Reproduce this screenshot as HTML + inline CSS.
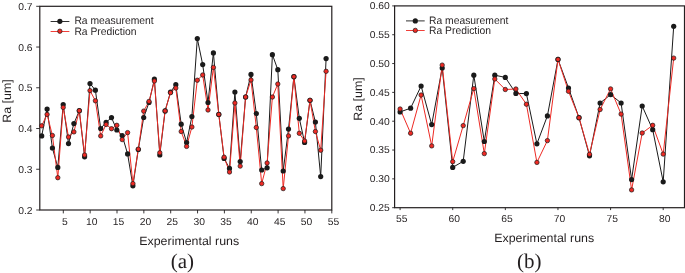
<!DOCTYPE html>
<html><head><meta charset="utf-8"><title>Ra measurement vs prediction</title>
<style>
html,body{margin:0;padding:0;background:#fff;}
svg{display:block;}
text{text-rendering:geometricPrecision;font-family:"Liberation Sans",Arial,sans-serif;fill:#231f20;}
.t{font-size:10px;}
.g{font-size:10.8px;}
.l{font-size:12px;}
.c{font-family:"Liberation Serif","Times New Roman",serif;font-size:21px;}
</style></head><body>
<svg width="685" height="273" viewBox="0 0 685 273">
<rect width="685" height="273" fill="#fff"/>
<rect x="39.8" y="6.3" width="292.0" height="203.7" fill="none" stroke="#231f20" stroke-width="1.2"/>
<line x1="36.199999999999996" y1="6.30" x2="39.8" y2="6.30" stroke="#231f20" stroke-width="0.9"/>
<text class="t" transform="translate(32.60,9.90) scale(1.033,1)" text-anchor="end">0.7</text>
<line x1="36.199999999999996" y1="47.04" x2="39.8" y2="47.04" stroke="#231f20" stroke-width="0.9"/>
<text class="t" transform="translate(32.60,50.64) scale(1.033,1)" text-anchor="end">0.6</text>
<line x1="36.199999999999996" y1="87.78" x2="39.8" y2="87.78" stroke="#231f20" stroke-width="0.9"/>
<text class="t" transform="translate(32.60,91.38) scale(1.033,1)" text-anchor="end">0.5</text>
<line x1="36.199999999999996" y1="128.52" x2="39.8" y2="128.52" stroke="#231f20" stroke-width="0.9"/>
<text class="t" transform="translate(32.60,132.12) scale(1.033,1)" text-anchor="end">0.4</text>
<line x1="36.199999999999996" y1="169.26" x2="39.8" y2="169.26" stroke="#231f20" stroke-width="0.9"/>
<text class="t" transform="translate(32.60,172.86) scale(1.033,1)" text-anchor="end">0.3</text>
<line x1="36.199999999999996" y1="210.00" x2="39.8" y2="210.00" stroke="#231f20" stroke-width="0.9"/>
<text class="t" transform="translate(32.60,213.60) scale(1.033,1)" text-anchor="end">0.2</text>
<line x1="63.30" y1="210.0" x2="63.30" y2="213.4" stroke="#231f20" stroke-width="0.9"/>
<text class="t" transform="translate(64.90,225.00) scale(1.033,1)" text-anchor="middle">5</text>
<line x1="90.15" y1="210.0" x2="90.15" y2="213.4" stroke="#231f20" stroke-width="0.9"/>
<text class="t" transform="translate(91.75,225.00) scale(1.033,1)" text-anchor="middle">10</text>
<line x1="117.00" y1="210.0" x2="117.00" y2="213.4" stroke="#231f20" stroke-width="0.9"/>
<text class="t" transform="translate(118.60,225.00) scale(1.033,1)" text-anchor="middle">15</text>
<line x1="143.85" y1="210.0" x2="143.85" y2="213.4" stroke="#231f20" stroke-width="0.9"/>
<text class="t" transform="translate(145.45,225.00) scale(1.033,1)" text-anchor="middle">20</text>
<line x1="170.70" y1="210.0" x2="170.70" y2="213.4" stroke="#231f20" stroke-width="0.9"/>
<text class="t" transform="translate(172.30,225.00) scale(1.033,1)" text-anchor="middle">25</text>
<line x1="197.55" y1="210.0" x2="197.55" y2="213.4" stroke="#231f20" stroke-width="0.9"/>
<text class="t" transform="translate(199.15,225.00) scale(1.033,1)" text-anchor="middle">30</text>
<line x1="224.40" y1="210.0" x2="224.40" y2="213.4" stroke="#231f20" stroke-width="0.9"/>
<text class="t" transform="translate(226.00,225.00) scale(1.033,1)" text-anchor="middle">35</text>
<line x1="251.25" y1="210.0" x2="251.25" y2="213.4" stroke="#231f20" stroke-width="0.9"/>
<text class="t" transform="translate(252.85,225.00) scale(1.033,1)" text-anchor="middle">40</text>
<line x1="278.10" y1="210.0" x2="278.10" y2="213.4" stroke="#231f20" stroke-width="0.9"/>
<text class="t" transform="translate(279.70,225.00) scale(1.033,1)" text-anchor="middle">45</text>
<line x1="304.95" y1="210.0" x2="304.95" y2="213.4" stroke="#231f20" stroke-width="0.9"/>
<text class="t" transform="translate(306.55,225.00) scale(1.033,1)" text-anchor="middle">50</text>
<line x1="331.80" y1="210.0" x2="331.80" y2="213.4" stroke="#231f20" stroke-width="0.9"/>
<text class="t" transform="translate(333.40,225.00) scale(1.033,1)" text-anchor="middle">55</text>
<polyline points="41.7,135.9 47.1,109.1 52.4,148.0 57.8,167.4 63.2,104.5 68.5,143.6 73.9,123.6 79.3,110.7 84.6,156.8 90.0,83.5 95.4,90.2 100.7,128.5 106.1,122.3 111.5,117.6 116.8,130.0 122.2,135.5 127.6,153.9 132.9,185.8 138.3,149.5 143.7,117.5 149.0,102.5 154.4,79.2 159.8,155.0 165.1,110.9 170.5,92.0 175.8,84.7 181.2,124.2 186.6,142.5 191.9,116.5 197.3,38.6 202.7,64.6 208.0,102.5 213.4,52.9 218.8,114.4 224.1,158.4 229.5,168.4 234.9,92.0 240.2,161.6 245.6,97.0 251.0,74.4 256.3,113.5 261.7,170.0 267.1,167.8 272.4,54.7 277.8,69.7 283.2,171.0 288.5,129.1 293.9,76.7 299.3,118.3 304.6,142.5 310.0,100.3 315.4,122.0 320.7,176.6 326.1,58.6" fill="none" stroke="#1a1a1a" stroke-width="1"/>
<polyline points="41.7,125.8 47.1,114.4 52.4,135.5 57.8,177.7 63.2,107.4 68.5,137.0 73.9,131.9 79.3,110.7 84.6,155.0 90.0,90.6 95.4,100.8 100.7,135.9 106.1,124.5 111.5,128.7 116.8,125.3 122.2,139.6 127.6,132.6 132.9,183.6 138.3,149.1 143.7,111.1 149.0,101.4 154.4,81.0 159.8,152.8 165.1,110.9 170.5,92.7 175.8,88.0 181.2,131.5 186.6,146.4 191.9,127.0 197.3,80.2 202.7,75.0 208.0,110.0 213.4,67.4 218.8,114.4 224.1,157.2 229.5,172.0 234.9,103.0 240.2,166.1 245.6,97.0 251.0,80.0 256.3,127.5 261.7,183.6 267.1,163.0 272.4,97.0 277.8,84.0 283.2,188.6 288.5,135.9 293.9,76.7 299.3,133.3 304.6,141.0 310.0,100.3 315.4,131.5 320.7,150.2 326.1,71.3" fill="none" stroke="#ee2a24" stroke-width="1"/>
<circle cx="41.7" cy="135.9" r="2.6" fill="#1a1a1a"/><circle cx="47.1" cy="109.1" r="2.6" fill="#1a1a1a"/><circle cx="52.4" cy="148.0" r="2.6" fill="#1a1a1a"/><circle cx="57.8" cy="167.4" r="2.6" fill="#1a1a1a"/><circle cx="63.2" cy="104.5" r="2.6" fill="#1a1a1a"/><circle cx="68.5" cy="143.6" r="2.6" fill="#1a1a1a"/><circle cx="73.9" cy="123.6" r="2.6" fill="#1a1a1a"/><circle cx="79.3" cy="110.7" r="2.6" fill="#1a1a1a"/><circle cx="84.6" cy="156.8" r="2.6" fill="#1a1a1a"/><circle cx="90.0" cy="83.5" r="2.6" fill="#1a1a1a"/><circle cx="95.4" cy="90.2" r="2.6" fill="#1a1a1a"/><circle cx="100.7" cy="128.5" r="2.6" fill="#1a1a1a"/><circle cx="106.1" cy="122.3" r="2.6" fill="#1a1a1a"/><circle cx="111.5" cy="117.6" r="2.6" fill="#1a1a1a"/><circle cx="116.8" cy="130.0" r="2.6" fill="#1a1a1a"/><circle cx="122.2" cy="135.5" r="2.6" fill="#1a1a1a"/><circle cx="127.6" cy="153.9" r="2.6" fill="#1a1a1a"/><circle cx="132.9" cy="185.8" r="2.6" fill="#1a1a1a"/><circle cx="138.3" cy="149.5" r="2.6" fill="#1a1a1a"/><circle cx="143.7" cy="117.5" r="2.6" fill="#1a1a1a"/><circle cx="149.0" cy="102.5" r="2.6" fill="#1a1a1a"/><circle cx="154.4" cy="79.2" r="2.6" fill="#1a1a1a"/><circle cx="159.8" cy="155.0" r="2.6" fill="#1a1a1a"/><circle cx="165.1" cy="110.9" r="2.6" fill="#1a1a1a"/><circle cx="170.5" cy="92.0" r="2.6" fill="#1a1a1a"/><circle cx="175.8" cy="84.7" r="2.6" fill="#1a1a1a"/><circle cx="181.2" cy="124.2" r="2.6" fill="#1a1a1a"/><circle cx="186.6" cy="142.5" r="2.6" fill="#1a1a1a"/><circle cx="191.9" cy="116.5" r="2.6" fill="#1a1a1a"/><circle cx="197.3" cy="38.6" r="2.6" fill="#1a1a1a"/><circle cx="202.7" cy="64.6" r="2.6" fill="#1a1a1a"/><circle cx="208.0" cy="102.5" r="2.6" fill="#1a1a1a"/><circle cx="213.4" cy="52.9" r="2.6" fill="#1a1a1a"/><circle cx="218.8" cy="114.4" r="2.6" fill="#1a1a1a"/><circle cx="224.1" cy="158.4" r="2.6" fill="#1a1a1a"/><circle cx="229.5" cy="168.4" r="2.6" fill="#1a1a1a"/><circle cx="234.9" cy="92.0" r="2.6" fill="#1a1a1a"/><circle cx="240.2" cy="161.6" r="2.6" fill="#1a1a1a"/><circle cx="245.6" cy="97.0" r="2.6" fill="#1a1a1a"/><circle cx="251.0" cy="74.4" r="2.6" fill="#1a1a1a"/><circle cx="256.3" cy="113.5" r="2.6" fill="#1a1a1a"/><circle cx="261.7" cy="170.0" r="2.6" fill="#1a1a1a"/><circle cx="267.1" cy="167.8" r="2.6" fill="#1a1a1a"/><circle cx="272.4" cy="54.7" r="2.6" fill="#1a1a1a"/><circle cx="277.8" cy="69.7" r="2.6" fill="#1a1a1a"/><circle cx="283.2" cy="171.0" r="2.6" fill="#1a1a1a"/><circle cx="288.5" cy="129.1" r="2.6" fill="#1a1a1a"/><circle cx="293.9" cy="76.7" r="2.6" fill="#1a1a1a"/><circle cx="299.3" cy="118.3" r="2.6" fill="#1a1a1a"/><circle cx="304.6" cy="142.5" r="2.6" fill="#1a1a1a"/><circle cx="310.0" cy="100.3" r="2.6" fill="#1a1a1a"/><circle cx="315.4" cy="122.0" r="2.6" fill="#1a1a1a"/><circle cx="320.7" cy="176.6" r="2.6" fill="#1a1a1a"/><circle cx="326.1" cy="58.6" r="2.6" fill="#1a1a1a"/>
<circle cx="41.7" cy="125.8" r="2.2" fill="#ee2a24" stroke="#1a1a1a" stroke-width="0.7"/><circle cx="47.1" cy="114.4" r="2.2" fill="#ee2a24" stroke="#1a1a1a" stroke-width="0.7"/><circle cx="52.4" cy="135.5" r="2.2" fill="#ee2a24" stroke="#1a1a1a" stroke-width="0.7"/><circle cx="57.8" cy="177.7" r="2.2" fill="#ee2a24" stroke="#1a1a1a" stroke-width="0.7"/><circle cx="63.2" cy="107.4" r="2.2" fill="#ee2a24" stroke="#1a1a1a" stroke-width="0.7"/><circle cx="68.5" cy="137.0" r="2.2" fill="#ee2a24" stroke="#1a1a1a" stroke-width="0.7"/><circle cx="73.9" cy="131.9" r="2.2" fill="#ee2a24" stroke="#1a1a1a" stroke-width="0.7"/><circle cx="79.3" cy="110.7" r="2.2" fill="#ee2a24" stroke="#1a1a1a" stroke-width="0.7"/><circle cx="84.6" cy="155.0" r="2.2" fill="#ee2a24" stroke="#1a1a1a" stroke-width="0.7"/><circle cx="90.0" cy="90.6" r="2.2" fill="#ee2a24" stroke="#1a1a1a" stroke-width="0.7"/><circle cx="95.4" cy="100.8" r="2.2" fill="#ee2a24" stroke="#1a1a1a" stroke-width="0.7"/><circle cx="100.7" cy="135.9" r="2.2" fill="#ee2a24" stroke="#1a1a1a" stroke-width="0.7"/><circle cx="106.1" cy="124.5" r="2.2" fill="#ee2a24" stroke="#1a1a1a" stroke-width="0.7"/><circle cx="111.5" cy="128.7" r="2.2" fill="#ee2a24" stroke="#1a1a1a" stroke-width="0.7"/><circle cx="116.8" cy="125.3" r="2.2" fill="#ee2a24" stroke="#1a1a1a" stroke-width="0.7"/><circle cx="122.2" cy="139.6" r="2.2" fill="#ee2a24" stroke="#1a1a1a" stroke-width="0.7"/><circle cx="127.6" cy="132.6" r="2.2" fill="#ee2a24" stroke="#1a1a1a" stroke-width="0.7"/><circle cx="132.9" cy="183.6" r="2.2" fill="#ee2a24" stroke="#1a1a1a" stroke-width="0.7"/><circle cx="138.3" cy="149.1" r="2.2" fill="#ee2a24" stroke="#1a1a1a" stroke-width="0.7"/><circle cx="143.7" cy="111.1" r="2.2" fill="#ee2a24" stroke="#1a1a1a" stroke-width="0.7"/><circle cx="149.0" cy="101.4" r="2.2" fill="#ee2a24" stroke="#1a1a1a" stroke-width="0.7"/><circle cx="154.4" cy="81.0" r="2.2" fill="#ee2a24" stroke="#1a1a1a" stroke-width="0.7"/><circle cx="159.8" cy="152.8" r="2.2" fill="#ee2a24" stroke="#1a1a1a" stroke-width="0.7"/><circle cx="165.1" cy="110.9" r="2.2" fill="#ee2a24" stroke="#1a1a1a" stroke-width="0.7"/><circle cx="170.5" cy="92.7" r="2.2" fill="#ee2a24" stroke="#1a1a1a" stroke-width="0.7"/><circle cx="175.8" cy="88.0" r="2.2" fill="#ee2a24" stroke="#1a1a1a" stroke-width="0.7"/><circle cx="181.2" cy="131.5" r="2.2" fill="#ee2a24" stroke="#1a1a1a" stroke-width="0.7"/><circle cx="186.6" cy="146.4" r="2.2" fill="#ee2a24" stroke="#1a1a1a" stroke-width="0.7"/><circle cx="191.9" cy="127.0" r="2.2" fill="#ee2a24" stroke="#1a1a1a" stroke-width="0.7"/><circle cx="197.3" cy="80.2" r="2.2" fill="#ee2a24" stroke="#1a1a1a" stroke-width="0.7"/><circle cx="202.7" cy="75.0" r="2.2" fill="#ee2a24" stroke="#1a1a1a" stroke-width="0.7"/><circle cx="208.0" cy="110.0" r="2.2" fill="#ee2a24" stroke="#1a1a1a" stroke-width="0.7"/><circle cx="213.4" cy="67.4" r="2.2" fill="#ee2a24" stroke="#1a1a1a" stroke-width="0.7"/><circle cx="218.8" cy="114.4" r="2.2" fill="#ee2a24" stroke="#1a1a1a" stroke-width="0.7"/><circle cx="224.1" cy="157.2" r="2.2" fill="#ee2a24" stroke="#1a1a1a" stroke-width="0.7"/><circle cx="229.5" cy="172.0" r="2.2" fill="#ee2a24" stroke="#1a1a1a" stroke-width="0.7"/><circle cx="234.9" cy="103.0" r="2.2" fill="#ee2a24" stroke="#1a1a1a" stroke-width="0.7"/><circle cx="240.2" cy="166.1" r="2.2" fill="#ee2a24" stroke="#1a1a1a" stroke-width="0.7"/><circle cx="245.6" cy="97.0" r="2.2" fill="#ee2a24" stroke="#1a1a1a" stroke-width="0.7"/><circle cx="251.0" cy="80.0" r="2.2" fill="#ee2a24" stroke="#1a1a1a" stroke-width="0.7"/><circle cx="256.3" cy="127.5" r="2.2" fill="#ee2a24" stroke="#1a1a1a" stroke-width="0.7"/><circle cx="261.7" cy="183.6" r="2.2" fill="#ee2a24" stroke="#1a1a1a" stroke-width="0.7"/><circle cx="267.1" cy="163.0" r="2.2" fill="#ee2a24" stroke="#1a1a1a" stroke-width="0.7"/><circle cx="272.4" cy="97.0" r="2.2" fill="#ee2a24" stroke="#1a1a1a" stroke-width="0.7"/><circle cx="277.8" cy="84.0" r="2.2" fill="#ee2a24" stroke="#1a1a1a" stroke-width="0.7"/><circle cx="283.2" cy="188.6" r="2.2" fill="#ee2a24" stroke="#1a1a1a" stroke-width="0.7"/><circle cx="288.5" cy="135.9" r="2.2" fill="#ee2a24" stroke="#1a1a1a" stroke-width="0.7"/><circle cx="293.9" cy="76.7" r="2.2" fill="#ee2a24" stroke="#1a1a1a" stroke-width="0.7"/><circle cx="299.3" cy="133.3" r="2.2" fill="#ee2a24" stroke="#1a1a1a" stroke-width="0.7"/><circle cx="304.6" cy="141.0" r="2.2" fill="#ee2a24" stroke="#1a1a1a" stroke-width="0.7"/><circle cx="310.0" cy="100.3" r="2.2" fill="#ee2a24" stroke="#1a1a1a" stroke-width="0.7"/><circle cx="315.4" cy="131.5" r="2.2" fill="#ee2a24" stroke="#1a1a1a" stroke-width="0.7"/><circle cx="320.7" cy="150.2" r="2.2" fill="#ee2a24" stroke="#1a1a1a" stroke-width="0.7"/><circle cx="326.1" cy="71.3" r="2.2" fill="#ee2a24" stroke="#1a1a1a" stroke-width="0.7"/>
<line x1="50.6" y1="21.5" x2="69.4" y2="21.5" stroke="#1a1a1a" stroke-width="0.9"/><circle cx="59.85" cy="21.3" r="2.6" fill="#1a1a1a"/>
<line x1="50.6" y1="31.5" x2="69.4" y2="31.5" stroke="#ee2a24" stroke-width="0.9"/><circle cx="59.85" cy="31.2" r="2.2" fill="#ee2a24" stroke="#1a1a1a" stroke-width="0.7"/>
<text class="g" transform="translate(74.40,24.35) scale(0.957,1)">Ra measurement</text>
<text class="g" transform="translate(74.40,34.65) scale(0.957,1)">Ra Prediction</text>
<text class="l" transform="translate(10.70,122.70) rotate(-90) scale(1.033,1)">Ra [um]</text>
<text class="l" transform="translate(189.20,245.20) scale(1.033,1)" text-anchor="middle">Experimental runs</text>
<text class="c" x="182.4" y="268" text-anchor="middle">(a)</text>
<rect x="394.6" y="5.9" width="289.9" height="201.79999999999998" fill="none" stroke="#231f20" stroke-width="1.2"/>
<line x1="392.20000000000005" y1="5.90" x2="394.6" y2="5.90" stroke="#231f20" stroke-width="0.9"/>
<text class="t" transform="translate(389.80,9.20) scale(1.033,1)" text-anchor="end">0.60</text>
<line x1="392.20000000000005" y1="34.73" x2="394.6" y2="34.73" stroke="#231f20" stroke-width="0.9"/>
<text class="t" transform="translate(389.80,38.03) scale(1.033,1)" text-anchor="end">0.55</text>
<line x1="392.20000000000005" y1="63.56" x2="394.6" y2="63.56" stroke="#231f20" stroke-width="0.9"/>
<text class="t" transform="translate(389.80,66.86) scale(1.033,1)" text-anchor="end">0.50</text>
<line x1="392.20000000000005" y1="92.39" x2="394.6" y2="92.39" stroke="#231f20" stroke-width="0.9"/>
<text class="t" transform="translate(389.80,95.69) scale(1.033,1)" text-anchor="end">0.45</text>
<line x1="392.20000000000005" y1="121.21" x2="394.6" y2="121.21" stroke="#231f20" stroke-width="0.9"/>
<text class="t" transform="translate(389.80,124.51) scale(1.033,1)" text-anchor="end">0.40</text>
<line x1="392.20000000000005" y1="150.04" x2="394.6" y2="150.04" stroke="#231f20" stroke-width="0.9"/>
<text class="t" transform="translate(389.80,153.34) scale(1.033,1)" text-anchor="end">0.35</text>
<line x1="392.20000000000005" y1="178.87" x2="394.6" y2="178.87" stroke="#231f20" stroke-width="0.9"/>
<text class="t" transform="translate(389.80,182.17) scale(1.033,1)" text-anchor="end">0.30</text>
<line x1="392.20000000000005" y1="207.70" x2="394.6" y2="207.70" stroke="#231f20" stroke-width="0.9"/>
<text class="t" transform="translate(389.80,211.00) scale(1.033,1)" text-anchor="end">0.25</text>
<line x1="400.10" y1="207.7" x2="400.10" y2="210.1" stroke="#231f20" stroke-width="0.9"/>
<text class="t" transform="translate(401.70,222.40) scale(1.033,1)" text-anchor="middle">55</text>
<line x1="452.72" y1="207.7" x2="452.72" y2="210.1" stroke="#231f20" stroke-width="0.9"/>
<text class="t" transform="translate(454.32,222.40) scale(1.033,1)" text-anchor="middle">60</text>
<line x1="505.34" y1="207.7" x2="505.34" y2="210.1" stroke="#231f20" stroke-width="0.9"/>
<text class="t" transform="translate(506.94,222.40) scale(1.033,1)" text-anchor="middle">65</text>
<line x1="557.96" y1="207.7" x2="557.96" y2="210.1" stroke="#231f20" stroke-width="0.9"/>
<text class="t" transform="translate(559.56,222.40) scale(1.033,1)" text-anchor="middle">70</text>
<line x1="610.58" y1="207.7" x2="610.58" y2="210.1" stroke="#231f20" stroke-width="0.9"/>
<text class="t" transform="translate(612.18,222.40) scale(1.033,1)" text-anchor="middle">75</text>
<line x1="663.20" y1="207.7" x2="663.20" y2="210.1" stroke="#231f20" stroke-width="0.9"/>
<text class="t" transform="translate(664.80,222.40) scale(1.033,1)" text-anchor="middle">80</text>
<polyline points="400.1,111.9 410.6,108.2 421.1,86.0 431.7,124.6 442.2,68.0 452.7,167.4 463.2,161.3 473.8,75.2 484.3,141.5 494.8,75.2 505.3,77.4 515.9,93.4 526.4,93.6 536.9,143.8 547.4,115.9 558.0,59.4 568.5,88.0 579.0,117.7 589.5,155.8 600.1,103.0 610.6,94.6 621.1,103.0 631.6,179.6 642.2,106.0 652.7,129.7 663.2,181.8 673.7,26.3" fill="none" stroke="#1a1a1a" stroke-width="1"/>
<polyline points="400.1,109.0 410.6,133.2 421.1,95.0 431.7,145.9 442.2,65.1 452.7,161.7 463.2,125.6 473.8,88.6 484.3,153.6 494.8,79.0 505.3,89.5 515.9,89.0 526.4,104.2 536.9,162.4 547.4,140.6 558.0,59.4 568.5,91.3 579.0,117.7 589.5,154.3 600.1,109.5 610.6,88.9 621.1,114.1 631.6,189.9 642.2,133.0 652.7,125.3 663.2,154.1 673.7,58.1" fill="none" stroke="#ee2a24" stroke-width="1"/>
<circle cx="400.1" cy="111.9" r="2.6" fill="#1a1a1a"/><circle cx="410.6" cy="108.2" r="2.6" fill="#1a1a1a"/><circle cx="421.1" cy="86.0" r="2.6" fill="#1a1a1a"/><circle cx="431.7" cy="124.6" r="2.6" fill="#1a1a1a"/><circle cx="442.2" cy="68.0" r="2.6" fill="#1a1a1a"/><circle cx="452.7" cy="167.4" r="2.6" fill="#1a1a1a"/><circle cx="463.2" cy="161.3" r="2.6" fill="#1a1a1a"/><circle cx="473.8" cy="75.2" r="2.6" fill="#1a1a1a"/><circle cx="484.3" cy="141.5" r="2.6" fill="#1a1a1a"/><circle cx="494.8" cy="75.2" r="2.6" fill="#1a1a1a"/><circle cx="505.3" cy="77.4" r="2.6" fill="#1a1a1a"/><circle cx="515.9" cy="93.4" r="2.6" fill="#1a1a1a"/><circle cx="526.4" cy="93.6" r="2.6" fill="#1a1a1a"/><circle cx="536.9" cy="143.8" r="2.6" fill="#1a1a1a"/><circle cx="547.4" cy="115.9" r="2.6" fill="#1a1a1a"/><circle cx="558.0" cy="59.4" r="2.6" fill="#1a1a1a"/><circle cx="568.5" cy="88.0" r="2.6" fill="#1a1a1a"/><circle cx="579.0" cy="117.7" r="2.6" fill="#1a1a1a"/><circle cx="589.5" cy="155.8" r="2.6" fill="#1a1a1a"/><circle cx="600.1" cy="103.0" r="2.6" fill="#1a1a1a"/><circle cx="610.6" cy="94.6" r="2.6" fill="#1a1a1a"/><circle cx="621.1" cy="103.0" r="2.6" fill="#1a1a1a"/><circle cx="631.6" cy="179.6" r="2.6" fill="#1a1a1a"/><circle cx="642.2" cy="106.0" r="2.6" fill="#1a1a1a"/><circle cx="652.7" cy="129.7" r="2.6" fill="#1a1a1a"/><circle cx="663.2" cy="181.8" r="2.6" fill="#1a1a1a"/><circle cx="673.7" cy="26.3" r="2.6" fill="#1a1a1a"/>
<circle cx="400.1" cy="109.0" r="2.2" fill="#ee2a24" stroke="#1a1a1a" stroke-width="0.7"/><circle cx="410.6" cy="133.2" r="2.2" fill="#ee2a24" stroke="#1a1a1a" stroke-width="0.7"/><circle cx="421.1" cy="95.0" r="2.2" fill="#ee2a24" stroke="#1a1a1a" stroke-width="0.7"/><circle cx="431.7" cy="145.9" r="2.2" fill="#ee2a24" stroke="#1a1a1a" stroke-width="0.7"/><circle cx="442.2" cy="65.1" r="2.2" fill="#ee2a24" stroke="#1a1a1a" stroke-width="0.7"/><circle cx="452.7" cy="161.7" r="2.2" fill="#ee2a24" stroke="#1a1a1a" stroke-width="0.7"/><circle cx="463.2" cy="125.6" r="2.2" fill="#ee2a24" stroke="#1a1a1a" stroke-width="0.7"/><circle cx="473.8" cy="88.6" r="2.2" fill="#ee2a24" stroke="#1a1a1a" stroke-width="0.7"/><circle cx="484.3" cy="153.6" r="2.2" fill="#ee2a24" stroke="#1a1a1a" stroke-width="0.7"/><circle cx="494.8" cy="79.0" r="2.2" fill="#ee2a24" stroke="#1a1a1a" stroke-width="0.7"/><circle cx="505.3" cy="89.5" r="2.2" fill="#ee2a24" stroke="#1a1a1a" stroke-width="0.7"/><circle cx="515.9" cy="89.0" r="2.2" fill="#ee2a24" stroke="#1a1a1a" stroke-width="0.7"/><circle cx="526.4" cy="104.2" r="2.2" fill="#ee2a24" stroke="#1a1a1a" stroke-width="0.7"/><circle cx="536.9" cy="162.4" r="2.2" fill="#ee2a24" stroke="#1a1a1a" stroke-width="0.7"/><circle cx="547.4" cy="140.6" r="2.2" fill="#ee2a24" stroke="#1a1a1a" stroke-width="0.7"/><circle cx="558.0" cy="59.4" r="2.2" fill="#ee2a24" stroke="#1a1a1a" stroke-width="0.7"/><circle cx="568.5" cy="91.3" r="2.2" fill="#ee2a24" stroke="#1a1a1a" stroke-width="0.7"/><circle cx="579.0" cy="117.7" r="2.2" fill="#ee2a24" stroke="#1a1a1a" stroke-width="0.7"/><circle cx="589.5" cy="154.3" r="2.2" fill="#ee2a24" stroke="#1a1a1a" stroke-width="0.7"/><circle cx="600.1" cy="109.5" r="2.2" fill="#ee2a24" stroke="#1a1a1a" stroke-width="0.7"/><circle cx="610.6" cy="88.9" r="2.2" fill="#ee2a24" stroke="#1a1a1a" stroke-width="0.7"/><circle cx="621.1" cy="114.1" r="2.2" fill="#ee2a24" stroke="#1a1a1a" stroke-width="0.7"/><circle cx="631.6" cy="189.9" r="2.2" fill="#ee2a24" stroke="#1a1a1a" stroke-width="0.7"/><circle cx="642.2" cy="133.0" r="2.2" fill="#ee2a24" stroke="#1a1a1a" stroke-width="0.7"/><circle cx="652.7" cy="125.3" r="2.2" fill="#ee2a24" stroke="#1a1a1a" stroke-width="0.7"/><circle cx="663.2" cy="154.1" r="2.2" fill="#ee2a24" stroke="#1a1a1a" stroke-width="0.7"/><circle cx="673.7" cy="58.1" r="2.2" fill="#ee2a24" stroke="#1a1a1a" stroke-width="0.7"/>
<line x1="406" y1="20.9" x2="424.7" y2="20.9" stroke="#1a1a1a" stroke-width="0.9"/><circle cx="415.3" cy="20.9" r="2.6" fill="#1a1a1a"/>
<line x1="406" y1="30.5" x2="424.7" y2="30.5" stroke="#ee2a24" stroke-width="0.9"/><circle cx="415.3" cy="30.4" r="2.2" fill="#ee2a24" stroke="#1a1a1a" stroke-width="0.7"/>
<text class="g" transform="translate(429.00,23.60) scale(0.957,1)">Ra measurement</text>
<text class="g" transform="translate(429.00,33.50) scale(0.957,1)">Ra Prediction</text>
<text class="l" transform="translate(361.60,120.70) rotate(-90) scale(1.033,1)">Ra [um]</text>
<text class="l" transform="translate(544.20,242.00) scale(1.033,1)" text-anchor="middle">Experimental runs</text>
<text class="c" x="529.3" y="268" text-anchor="middle">(b)</text>
</svg></body></html>
